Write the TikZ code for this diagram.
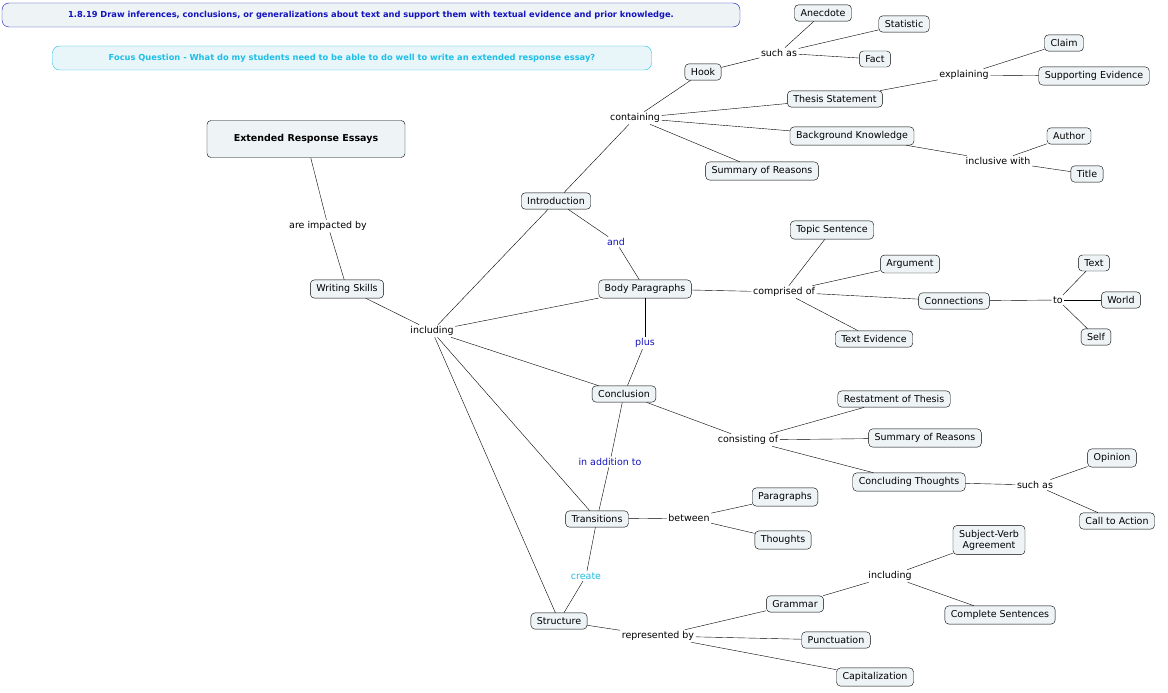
\documentclass[tikz,border=0pt]{standalone}
\usepackage{fontspec}
\setmainfont{DejaVu Sans}
\begin{document}
\begin{tikzpicture}[x=1pt,y=-1pt,
 box/.style={draw=black,rounded corners=4pt,fill={rgb,255:red,238;green,244;blue,246},inner xsep=6pt,inner ysep=4.5pt,font=\fontsize{9.5}{11}\selectfont,align=center},
 lab/.style={fill=white,inner sep=1.5pt,font=\fontsize{9.5}{11}\selectfont},
 blab/.style={lab,text={rgb,255:red,20;green,20;blue,190}},
 clab/.style={lab,text={rgb,255:red,30;green,190;blue,230}}]
\useasboundingbox (0,0) rectangle (1168,693);
\node[box,draw={rgb,255:red,20;green,20;blue,190},text={rgb,255:red,20;green,20;blue,190},font=\fontsize{8.3}{10}\bfseries,rounded corners=7pt,minimum width=738pt,minimum height=24pt] (hd) at (371,15) {1.8.19 Draw inferences, conclusions, or generalizations about text and support them with textual evidence and prior knowledge.};
\node[box,draw={rgb,255:red,30;green,190;blue,230},text={rgb,255:red,30;green,190;blue,230},font=\fontsize{8.3}{10}\bfseries,rounded corners=7pt,minimum width=599pt,minimum height=24pt,fill={rgb,255:red,232;green,246;blue,250}] (fq) at (352,58) {Focus Question - What do my students need to be able to do well to write an extended response essay?};
\node[box,font=\fontsize{9.5}{11}\bfseries,minimum width=198pt,minimum height=37pt] (ere) at (306,139) {Extended Response Essays};
\node[box] (ws) at (347,289) {Writing Skills};
\node[lab] (aib) at (328,226) {are impacted by};
\node[lab] (inc) at (432,331) {including};
\node[box] (intro) at (556,201) {Introduction};
\node[lab] (cont) at (635,118) {containing};
\node[box] (hook) at (703,72) {Hook};
\node[lab] (sa1) at (779,53) {such as};
\node[box] (anec) at (823,13) {Anecdote};
\node[box] (stat) at (904,24) {Statistic};
\node[box] (fact) at (875,59) {Fact};
\node[box] (thesis) at (835,99) {Thesis Statement};
\node[lab] (expl) at (964,75) {explaining};
\node[box] (claim) at (1064,43) {Claim};
\node[box] (supp) at (1094,76) {Supporting Evidence};
\node[box] (bk) at (852,136) {Background Knowledge};
\node[lab] (incw) at (998,161) {inclusive with};
\node[box] (auth) at (1069,136) {Author};
\node[box] (title) at (1087,174) {Title};
\node[box] (sor1) at (762,171) {Summary of Reasons};
\node[blab] (and) at (616,242) {and};
\node[box] (body) at (645,289) {Body Paragraphs};
\node[lab] (comp) at (784,292) {comprised of};
\node[box] (ts) at (832,230) {Topic Sentence};
\node[box] (arg) at (910,264) {Argument};
\node[box] (conn) at (954,301) {Connections};
\node[box] (te) at (874,339) {Text Evidence};
\node[lab] (to) at (1058,300) {to};
\node[box] (text) at (1094,263) {Text};
\node[box] (world) at (1121,300) {World};
\node[box] (self) at (1096,337) {Self};
\node[blab] (plus) at (645,343) {plus};
\node[box] (concl) at (624,394) {Conclusion};
\node[lab] (consof) at (748,440) {consisting of};
\node[box] (rot) at (894,399) {Restatment of Thesis};
\node[box] (sor2) at (925,438) {Summary of Reasons};
\node[box] (ct) at (909,482) {Concluding Thoughts};
\node[lab] (sa2) at (1035,485) {such as};
\node[box] (op) at (1112,458) {Opinion};
\node[box] (cta) at (1117,521) {Call to Action};
\node[blab] (iat) at (610,462) {in addition to};
\node[box] (trans) at (597,519) {Transitions};
\node[lab] (betw) at (689,518) {between};
\node[box] (para) at (785,497) {Paragraphs};
\node[box] (thou) at (783,540) {Thoughts};
\node[clab] (create) at (586,576) {create};
\node[box] (struct) at (559,621) {Structure};
\node[lab] (repby) at (658,636) {represented by};
\node[box] (gram) at (795,604) {Grammar};
\node[lab] (inc2) at (890,576) {including};
\node[box] (sva) at (989,540) {Subject-Verb\\Agreement};
\node[box] (cs) at (1000,615) {Complete Sentences};
\node[box] (punc) at (836,640) {Punctuation};
\node[box] (cap) at (875,677) {Capitalization};
\begin{scope}[on background layer/.style={}]
\end{scope}
\foreach \a/\b in {ere/aib,aib/ws,ws/inc,inc/intro,inc/body,inc/concl,inc/trans,inc/struct,
 intro/cont,cont/hook,cont/thesis,cont/bk,cont/sor1,hook/sa1,sa1/anec,sa1/stat,sa1/fact,
 thesis/expl,expl/claim,expl/supp,bk/incw,incw/auth,incw/title,intro/and,and/body,
 body/comp,comp/ts,comp/arg,comp/conn,comp/te,conn/to,to/text,to/world,to/self,
 body/plus,plus/concl,concl/consof,consof/rot,consof/sor2,consof/ct,ct/sa2,sa2/op,sa2/cta,
 concl/iat,iat/trans,trans/betw,betw/para,betw/thou,trans/create,create/struct,
 struct/repby,repby/gram,repby/punc,repby/cap,gram/inc2,inc2/sva,inc2/cs}
 \draw (\a) -- (\b);
\end{tikzpicture}
\end{document}
